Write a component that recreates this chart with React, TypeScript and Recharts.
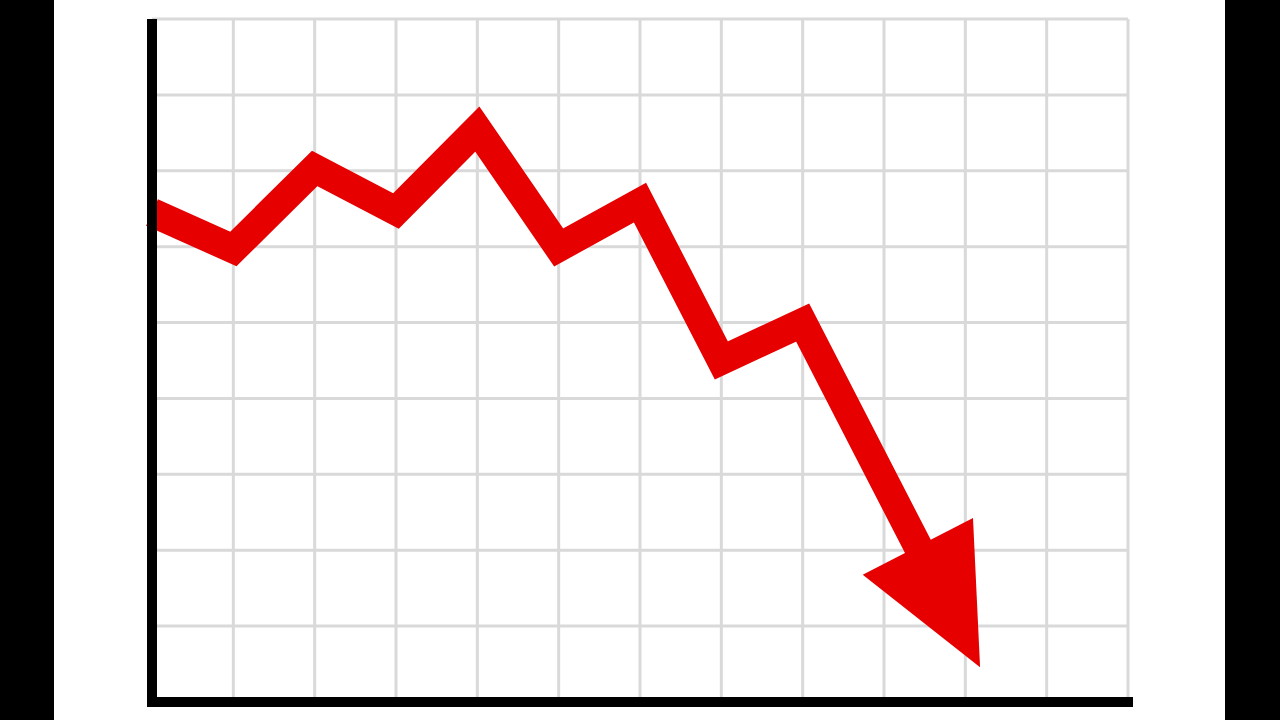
import { LineChart, Line, XAxis, YAxis, CartesianGrid } from "recharts";

// Step positions along the x axis (grid columns) and the plotted values.
const steps = [0, 1, 2, 3, 4, 5, 6, 7, 8, 9.45];
const values = [6.45, 5.97, 7.03, 6.47, 7.55, 5.99, 6.58, 4.5, 5.0, 1.98];

// Grid ticks: 12 columns, 9 rows.
const xTicks = [0, 1, 2, 3, 4, 5, 6, 7, 8, 9, 10, 11, 12];
const yTicks = [0, 1, 2, 3, 4, 5, 6, 7, 8, 9];

const data = steps.map((x, i) => ({ x, value: values[i] }));

const RED = "#e60000";

// axes carry no labels, only the thick black line
const NoTick = () => <g />;

export default function App() {
  return (
    <div
      style={{
        position: "fixed",
        left: 0,
        top: 0,
        width: 1280,
        height: 720,
        background: "#000",
      }}
    >
      <div
        style={{
          position: "absolute",
          left: 54,
          top: 0,
          width: 1171,
          height: 720,
          background: "#fff",
        }}
      />
      <div style={{ position: "absolute", left: 0, top: 0 }}>
        <LineChart
          width={1280}
          height={720}
          data={data}
          margin={{ top: 19, right: 152, bottom: 17, left: 151 }}
        >
          <defs>
            {/* arrow head drawn at the end of the line, follows its last segment */}
            <marker
              id="arrowHead"
              markerUnits="userSpaceOnUse"
              viewBox="-10 -70 150 140"
              markerWidth={150}
              markerHeight={140}
              refX={0}
              refY={0}
              orient="auto"
            >
              <path d="M -6 -62 L 130 0 L -6 62 Z" fill={RED} />
            </marker>
          </defs>
          <CartesianGrid stroke="#d9d9d9" strokeWidth={3} />
          <XAxis
            dataKey="x"
            type="number"
            domain={[0, 12]}
            ticks={xTicks}
            interval={0}
            height={1}
            tick={NoTick}
            tickLine={false}
            axisLine={{ stroke: "#000", strokeWidth: 10, strokeLinecap: "square" }}
          />
          <YAxis
            type="number"
            domain={[0, 9]}
            ticks={yTicks}
            interval={0}
            width={1}
            tick={NoTick}
            tickLine={false}
            axisLine={{ stroke: "#000", strokeWidth: 10 }}
          />
          <Line
            type="linear"
            dataKey="value"
            stroke={RED}
            strokeWidth={29}
            strokeLinejoin="miter"
            strokeLinecap="butt"
            dot={false}
            activeDot={false}
            markerEnd="url(#arrowHead)"
            isAnimationActive={false}
          />
        </LineChart>
      </div>
    </div>
  );
}
